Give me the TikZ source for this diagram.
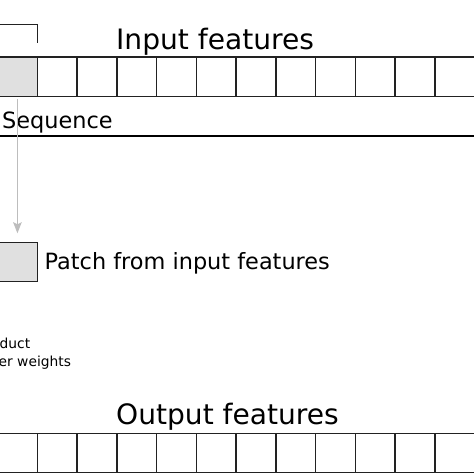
\documentclass[tikz,border=0pt]{standalone}
\usepackage{fontspec}
\setmainfont{DejaVu Sans}
\usetikzlibrary{arrows.meta}
\definecolor{cellline}{HTML}{222222}
\definecolor{patchfill}{HTML}{E0E0E0}
\definecolor{arrowgrey}{HTML}{BDBDBD}
\tikzset{
  cell/.style={draw=cellline, line width=1.5pt, rectangle, inner sep=0pt, outer sep=0pt,
    minimum width=39.75pt, minimum height=39.4pt, fill=white},
  graycell/.style={cell, fill=patchfill},
  bigtext/.style={font=\fontsize{28.1}{32}\selectfont, anchor=base west, inner sep=0pt},
  midtext/.style={font=\fontsize{22.4}{26}\selectfont, anchor=base west, inner sep=0pt},
  smalltext/.style={font=\fontsize{13.8}{16}\selectfont, anchor=base west, inner sep=0pt},
  seqline/.style={line width=2pt, black},
  bracketline/.style={line width=1.1pt, cellline},
  patcharrow/.style={arrowgrey, line width=1.5pt, -{Stealth[length=11pt,width=8.5pt,inset=2pt]}}
}
\begin{document}
\begin{tikzpicture}[x=1pt,y=-1pt]
\useasboundingbox (0,0) rectangle (474,474);
\clip (0,0) rectangle (474,474);
% input row
\node[graycell] (in0) at (17.425,76.8) {};
\foreach \i in {1,...,11} {
  \node[cell] (in\i) at ({17.425+39.75*\i},76.8) {};
}
% output row
\foreach \i in {0,...,11} {
  \node[cell] (out\i) at ({17.425+39.75*\i},453) {};
}
% bracket above first cell
\coordinate (brL) at (-5,24.3);
\coordinate (brC) at (37.3,24.3);
\coordinate (brE) at (37.3,43.3);
\draw[bracketline] (brL) -- (brC) -- (brE);
% titles
\node[bigtext] (intitle) at (116,49) {Input features};
\node[bigtext] (outtitle) at (116,424) {Output features};
% sequence line
\coordinate (seqL) at (-2,135.7);
\coordinate (seqR) at (476,135.7);
\draw[seqline] (seqL) -- (seqR);
\node[midtext] (seq) at (2,128) {Sequence};
% patch
\node[graycell, minimum height=39.4pt] (patch) at (17.425,262) {};
\node[midtext] (patchlbl) at (44.5,269) {Patch from input features};
\draw[patcharrow] ([yshift=-2.5pt]in0.south) -- ([yshift=9pt]patch.north);
% clipped label
\node[smalltext] (dot1) at (-0.5,348) {duct};
\node[smalltext] (dot2) at (-1.5,366) {er weights};
\end{tikzpicture}
\end{document}
